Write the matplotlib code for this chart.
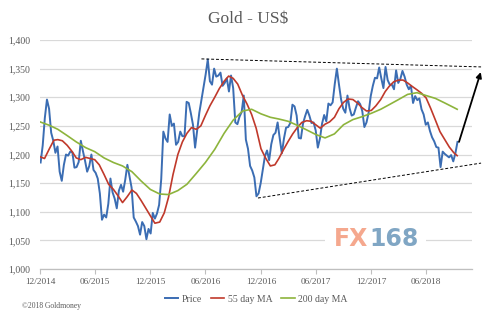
import matplotlib
matplotlib.use('Agg')
import matplotlib.pyplot as plt
import matplotlib.dates as mdates
import numpy as np
import pandas as pd

# Weekly gold price (Friday)
price_2015 = [1186, 1216, 1264, 1296, 1280, 1238, 1224, 1203, 1214, 1170, 1154, 1182, 1200,
              1198, 1205, 1204, 1177, 1178, 1187, 1224, 1206, 1189, 1170, 1180, 1200, 1173,
              1168, 1158, 1132, 1086, 1095, 1090, 1114, 1158, 1134, 1123, 1106, 1137, 1147,
              1135, 1156, 1182, 1162, 1142, 1090, 1083, 1075, 1060, 1082, 1075, 1052, 1070]
price_2016 = [1062, 1098, 1088, 1097, 1112, 1157, 1240, 1228, 1222, 1270, 1250, 1254, 1217,
              1222, 1240, 1232, 1232, 1292, 1290, 1272, 1252, 1212, 1243, 1273, 1295, 1318,
              1340, 1366, 1328, 1322, 1350, 1336, 1338, 1343, 1320, 1325, 1333, 1310, 1338,
              1316, 1256, 1253, 1266, 1274, 1303, 1226, 1210, 1180, 1172, 1160, 1127, 1132, 1150]
price_2017 = [1173, 1197, 1207, 1190, 1218, 1234, 1238, 1256, 1228, 1202, 1228, 1247, 1248,
              1255, 1287, 1284, 1268, 1229, 1228, 1254, 1267, 1278, 1268, 1255, 1256, 1242,
              1212, 1228, 1254, 1269, 1258, 1289, 1286, 1291, 1323, 1350, 1322, 1296, 1280,
              1273, 1303, 1281, 1268, 1270, 1282, 1293, 1288, 1276, 1248, 1256, 1273, 1302]
price_2018 = [1320, 1334, 1333, 1352, 1333, 1316, 1353, 1330, 1322, 1322, 1314, 1347, 1325,
              1332, 1346, 1336, 1322, 1314, 1320, 1290, 1302, 1295, 1298, 1279, 1270, 1252,
              1256, 1241, 1230, 1223, 1213, 1212, 1178, 1205, 1201, 1198, 1195, 1199, 1188,
              1202, 1222]
first_fridays = ['2015-01-02', '2016-01-01', '2017-01-06', '2018-01-05']

# 55 day MA, read twice a month (15th and month end)
ma55 = [1196,
        1193, 1210, 1225, 1226, 1224, 1216, 1206, 1194, 1191, 1195, 1193, 1191,
        1182, 1165, 1148, 1139, 1128, 1116, 1126, 1138, 1132, 1120, 1107, 1093,
        1080, 1082, 1098, 1125, 1165, 1200, 1222, 1237, 1247, 1244, 1250, 1268,
        1285, 1300, 1315, 1328, 1337, 1333, 1323, 1303, 1288, 1270, 1246, 1210,
        1194, 1180, 1182, 1193, 1208, 1223, 1236, 1247, 1256, 1259, 1258, 1252,
        1246, 1253, 1257, 1265, 1280, 1291, 1297, 1296, 1290, 1282, 1276, 1277,
        1285, 1296, 1310, 1319, 1327, 1330, 1330, 1325, 1319, 1313, 1307, 1299,
        1281, 1260, 1240, 1226, 1213, 1203,
        1198]

# 200 day MA, read at month ends
ma200 = [1257,
         1251, 1244, 1233, 1222, 1212, 1205, 1194, 1186, 1180, 1170, 1154, 1139,
         1131, 1130, 1137, 1148, 1167, 1186, 1209, 1237, 1260, 1276, 1279, 1271,
         1265, 1262, 1258, 1251, 1243, 1235, 1229, 1236, 1252, 1261, 1266, 1272,
         1279, 1287, 1296, 1305, 1308, 1303, 1298, 1290, 1282,
         1279]

# trend lines and arrow: (date, price)
top_trend = [('2016-06-17', 1367), ('2018-12-29', 1353)]
bottom_trend = [('2016-12-21', 1124), ('2018-12-29', 1185)]
arrow_pts = [('2018-10-17', 1222), ('2018-12-28', 1344)]

tick_dates = ['2014-12-31', '2015-06-30', '2015-12-31', '2016-06-30',
              '2016-12-31', '2017-06-30', '2017-12-31', '2018-06-30']

# build date axes
price_dates = []
price_vals = []
for start, vals in zip(first_fridays, [price_2015, price_2016, price_2017, price_2018]):
    price_dates += list(pd.date_range(start, periods=len(vals), freq='7D'))
    price_vals += vals

months = pd.date_range('2015-01-01', '2018-09-01', freq='MS')
month_ends = [m + pd.offsets.MonthEnd(0) for m in months]
mids = [m + pd.Timedelta(days=14) for m in months]
start_d = pd.Timestamp('2014-12-31')
end_d = pd.Timestamp('2018-10-11')
ma55_dates = [start_d]
for a, b in zip(mids, month_ends):
    ma55_dates += [a, b]
ma55_dates.append(end_d)
ma200_dates = [start_d] + month_ends + [end_d]

serif = ['Liberation Serif', 'DejaVu Serif']
grey_txt = '#595959'

fig = plt.figure(figsize=(5, 3.25), dpi=100)
ax = fig.add_axes([0.08, 0.1723, 0.864, 0.7046])

ax.plot(price_dates, price_vals, color='#3B6DB3', lw=1.4, label='Price', zorder=3)
ax.plot(ma55_dates, ma55, color='#C0392B', lw=1.2, label='55 day MA', zorder=4)
ax.plot(ma200_dates, ma200, color='#8DB43C', lw=1.2, label='200 day MA', zorder=5)

for pts in [top_trend, bottom_trend]:
    xs = [pd.Timestamp(d) for d, _ in pts]
    ys = [v for _, v in pts]
    ax.plot(xs, ys, color='black', lw=0.7, ls=(0, (3, 2)), clip_on=False, zorder=6)

(d0, v0), (d1, v1) = arrow_pts
ax.annotate('', xy=(pd.Timestamp(d1), v1), xytext=(pd.Timestamp(d0), v0),
            arrowprops=dict(arrowstyle='-|>', color='black', lw=1.3, mutation_scale=8,
                            shrinkA=0, shrinkB=0),
            annotation_clip=False, zorder=7)

ax.set_ylim(1000, 1400)
ax.set_xlim(pd.Timestamp('2014-12-31'), pd.Timestamp('2018-11-29'))
ax.set_yticks(np.arange(1000, 1401, 50))
ax.yaxis.set_major_formatter(plt.FuncFormatter(lambda v, p: f'{int(v):,}'))
ax.set_xticks([pd.Timestamp(d) for d in tick_dates])
ax.xaxis.set_major_formatter(mdates.DateFormatter('%m/%Y'))

ax.grid(axis='y', color='#D9D9D9', lw=0.9, zorder=0)
ax.set_axisbelow(True)
for s in ['top', 'right', 'left']:
    ax.spines[s].set_visible(False)
ax.spines['bottom'].set_color('#BFBFBF')
ax.spines['bottom'].set_linewidth(0.9)
ax.tick_params(axis='y', length=0, pad=7)
ax.tick_params(axis='x', length=3.5, color='#BFBFBF', pad=3)
for lab in ax.get_yticklabels():
    lab.set_fontfamily(serif)
    lab.set_fontsize(7)
    lab.set_color(grey_txt)
for lab in ax.get_xticklabels():
    lab.set_fontfamily(serif)
    lab.set_fontsize(6.7)
    lab.set_color(grey_txt)

fig.text(0.496, 1 - 23 / 325, 'Gold - US$', ha='center', va='baseline',
         fontsize=12.5, family=serif, color=grey_txt)

fig.legend(loc='center', bbox_to_anchor=(256 / 500, 1 - 299 / 325), ncol=3,
           frameon=False, handlelength=1.4, handletextpad=0.35, columnspacing=0.9,
           prop={'family': serif, 'size': 7})
for t in fig.legends[0].get_texts():
    t.set_color(grey_txt)

fig.text(22 / 500, 1 - 306 / 325, '\u00a92018 Goldmoney', ha='left', va='center',
         fontsize=5.5, family=serif, color=grey_txt)

# watermark, with a white patch breaking the gridline behind it
wm_y = 1 - 239 / 325
fig.patches.append(plt.Rectangle((325 / 500, 1 - 251 / 325), 101 / 500, 22 / 325,
                                 transform=fig.transFigure, facecolor='white',
                                 edgecolor='none', zorder=1))
fig.text(368 / 500, wm_y, 'FX', ha='right', va='center', fontsize=17,
         fontweight='bold', color='#F5A88E', family='DejaVu Sans')
fig.text(369 / 500, wm_y, '168', ha='left', va='center', fontsize=17,
         fontweight='bold', color='#80A6C4', family='DejaVu Sans')

fig.savefig('out.png', dpi=100)
